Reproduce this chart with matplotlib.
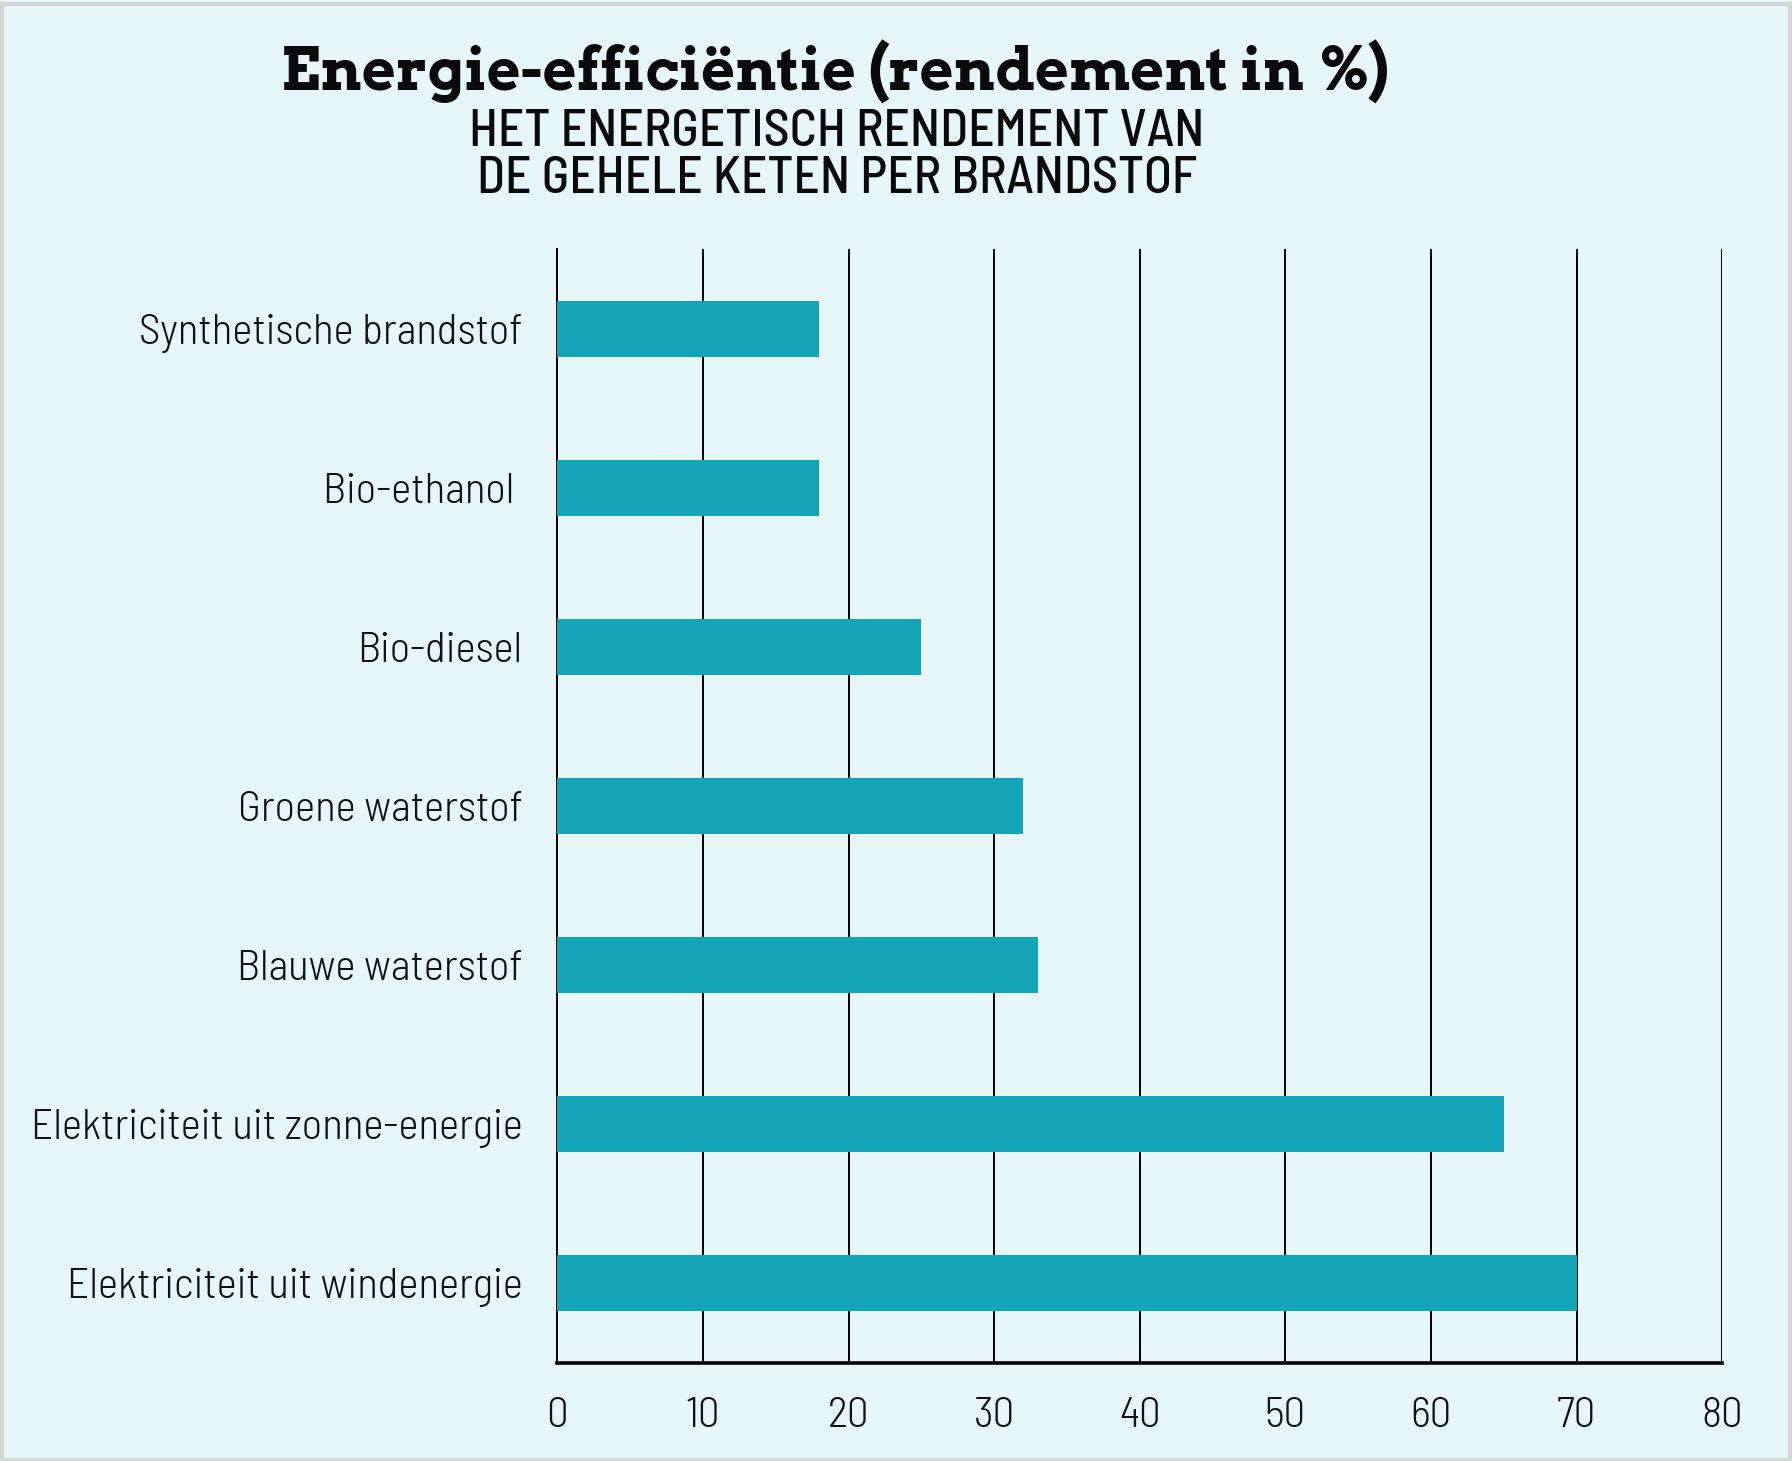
import matplotlib
matplotlib.use("Agg")
import matplotlib.pyplot as plt
from matplotlib.patches import Rectangle

# data, top to bottom
categories = [
    "Synthetische brandstof",
    "Bio-ethanol ",
    "Bio-diesel",
    "Groene waterstof",
    "Blauwe waterstof",
    "Elektriciteit uit zonne-energie",
    "Elektriciteit uit windenergie",
]
values = [18, 18, 25, 32, 33, 65, 70]
xticks = [0, 10, 20, 30, 40, 50, 60, 70, 80]

bg = "#E6F6F9"
bar_color = "#13A5B7"
label_font = dict(family="Barlow Semi Condensed", weight=300)

fig = plt.figure(figsize=(17.92, 14.61), dpi=100)
fig.patch.set_facecolor(bg)
fig.patches.append(Rectangle((0.001, 0.001), 0.998, 0.996, transform=fig.transFigure,
                             fill=False, edgecolor="#D4D6D6", linewidth=3))

ax = fig.add_axes([0.311, 0.0673, 0.650, 0.7621])
ax.set_facecolor(bg)

ypos = list(range(len(categories)))
ax.barh(ypos, values, height=0.35, color=bar_color, zorder=3)

ax.set_xlim(0, 80)
ax.set_ylim(6.5, -0.5)
ax.set_xticks(xticks)
ax.set_yticks(ypos)
ax.set_yticklabels(categories, fontsize=31, color="#111111", **label_font)
ax.set_xticklabels([str(t) for t in xticks], fontsize=31, color="#111111", **label_font)
ax.tick_params(axis="both", length=0)
ax.tick_params(axis="x", pad=25)
ax.tick_params(axis="y", pad=25)

ax.grid(axis="x", color="black", linewidth=1.4, zorder=1)
ax.set_axisbelow(True)
for s in ["top", "right"]:
    ax.spines[s].set_visible(False)
ax.spines["left"].set_linewidth(1.4)
ax.spines["bottom"].set_linewidth(2.6)

fig.text(0.466, 0.951, "Energie-efficiëntie (rendement in %)", ha="center", va="center",
         family="Arvo", fontweight="bold", fontsize=42, color="#0A0A0A")
fig.text(0.467, 0.909, "HET ENERGETISCH RENDEMENT VAN", ha="center", va="center",
         family="Barlow Semi Condensed", fontweight=500, fontsize=37, color="#0A0A0A")
fig.text(0.467, 0.877, "DE GEHELE KETEN PER BRANDSTOF", ha="center", va="center",
         family="Barlow Semi Condensed", fontweight=500, fontsize=37, color="#0A0A0A")

fig.savefig("out.png", dpi=100, facecolor=bg)
